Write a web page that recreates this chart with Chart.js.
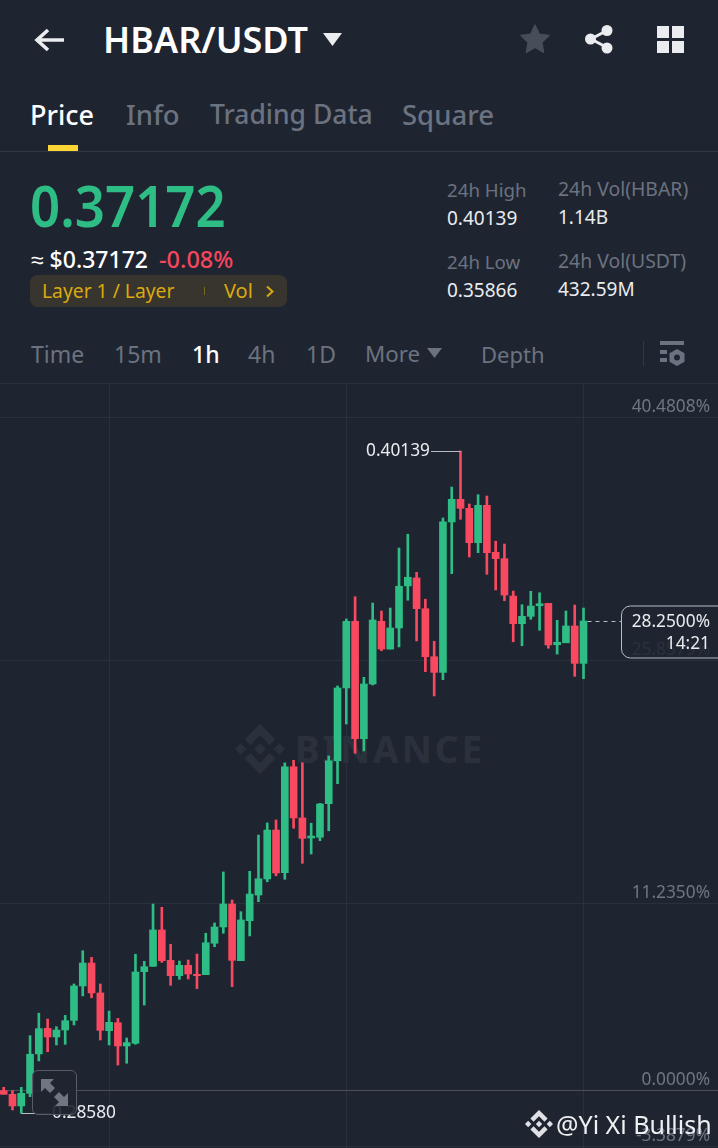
<!DOCTYPE html>
<html><head><meta charset="utf-8">
<script src="https://cdn.jsdelivr.net/npm/chart.js@4/dist/chart.umd.min.js"></script>
<style>
html,body{margin:0;padding:0;background:#1f2530;width:718px;height:1148px;overflow:hidden;font-family:"Noto Sans",sans-serif}
.t{position:absolute;white-space:nowrap;line-height:1}
.g{color:#6b7280}.w{color:#eaecef}
svg{position:absolute;display:block}
#c{position:absolute;left:0;top:384px}
</style></head><body>
<svg style="left:33px;top:26px" width="34" height="28" viewBox="0 0 34 28"><path d="M31 14H5M15 4L4 14l11 10" fill="none" stroke="#eaecef" stroke-width="3.6"/></svg>
<div class="t" style="left:103px;top:22px;font-size:36px;font-weight:600;color:#fff">HBAR/USDT</div>
<svg style="left:322px;top:32px" width="21" height="15" viewBox="0 0 21 15"><path d="M1 1h19L10.500 14z" fill="#eaecef"/></svg>
<svg style="left:519px;top:23px" width="32" height="32" viewBox="0 0 24 24"><path d="M12 1.500l3.200 6.800 7.300 1-5.300 5.200 1.300 7.500-6.500-3.600-6.500 3.600 1.300-7.500L1.500 9.300l7.300-1z" fill="#474d59" stroke="#474d59" stroke-linejoin="round"/></svg>
<svg style="left:584px;top:24px" width="30" height="30" viewBox="0 0 30 30"><path d="M24 6L7 15l17 9" fill="none" stroke="#eaecef" stroke-width="3"/><circle cx="23" cy="6.500" r="5.500" fill="#eaecef"/><circle cx="23" cy="24" r="5.500" fill="#eaecef"/><circle cx="6.500" cy="15" r="5.500" fill="#eaecef"/></svg>
<svg style="left:657px;top:26px" width="27" height="27" viewBox="0 0 27 27"><path d="M0 0h12v12H0zM15 0h12v12H15zM0 15h12v12H0zM15 15h12v12H15z" fill="#eaecef"/></svg>

<div class="t w" style="left:30px;top:101px;font-size:27px;font-weight:500;color:#fff">Price</div>
<div class="t g" style="left:126px;top:101px;font-size:27.500px;font-weight:500">Info</div>
<div class="t g" style="left:210px;top:101px;font-size:26.500px;font-weight:500">Trading Data</div>
<div class="t g" style="left:402px;top:101px;font-size:27.500px;font-weight:500">Square</div>
<div style="position:absolute;left:48px;top:145px;width:30px;height:6px;background:#fcd535"></div>
<div style="position:absolute;left:0;top:151px;width:718px;height:1px;background:#323844"></div>

<div class="t" style="left:30px;top:176px;font-size:58px;font-weight:600;color:#2ebd85;transform:scaleX(.91);transform-origin:0 0">0.37172</div>
<div class="t w" style="left:31px;top:248px;font-size:23px;font-weight:500;color:#fff">≈ $0.37172</div>
<div class="t" style="left:159px;top:248px;font-size:23.500px;font-weight:500;color:#f6465d">-0.08%</div>
<div style="position:absolute;left:30px;top:275px;width:257px;height:32px;border-radius:8px;background:#38352e"></div>
<div class="t" style="left:42px;top:281px;font-size:19.300px;color:#dba90f">Layer 1 / Layer</div>
<div style="position:absolute;left:204px;top:287px;width:1px;height:8px;background:#7a6a28"></div>
<div class="t" style="left:224px;top:281px;font-size:20px;color:#dba90f">Vol</div>
<svg style="left:265px;top:285px" width="10" height="13" viewBox="0 0 10 13"><path d="M2 1.500L7.500 6.500 2 11.500" fill="none" stroke="#dba90f" stroke-width="2"/></svg>

<div class="t g" style="left:447px;top:181px;font-size:18.700px">24h High</div>
<div class="t w" style="left:447px;top:209px;font-size:19px">0.40139</div>
<div class="t g" style="left:558px;top:179px;font-size:19.400px">24h Vol(HBAR)</div>
<div class="t w" style="left:558px;top:208px;font-size:19px">1.14B</div>
<div class="t g" style="left:447px;top:253px;font-size:18.700px">24h Low</div>
<div class="t w" style="left:447px;top:281px;font-size:19px">0.35866</div>
<div class="t g" style="left:558px;top:251px;font-size:19.400px">24h Vol(USDT)</div>
<div class="t w" style="left:558px;top:280px;font-size:19px">432.59M</div>

<div class="t g" style="left:31px;top:343px;font-size:23px">Time</div>
<div class="t g" style="left:114px;top:343px;font-size:23px">15m</div>
<div class="t" style="left:192px;top:343px;font-size:23px;font-weight:500;color:#fff">1h</div>
<div class="t g" style="left:248px;top:343px;font-size:23px">4h</div>
<div class="t g" style="left:306px;top:343px;font-size:23px">1D</div>
<div class="t g" style="left:365px;top:343px;font-size:22.300px">More</div>
<svg style="left:427px;top:347px" width="15" height="12" viewBox="0 0 15 12"><path d="M0 1h15L7.500 11z" fill="#6b7280"/></svg>
<div class="t g" style="left:481px;top:343px;font-size:22px">Depth</div>
<div style="position:absolute;left:643px;top:341px;width:1px;height:25px;background:#323844"></div>
<svg style="left:660px;top:341px" width="26" height="26" viewBox="0 0 26 26"><path d="M0 0h24v4H0zM0 9h7v4H0zM0 17h7v4H0z" fill="#6b7280"/><path d="M17 8l7.500 4.300v8.400L17 25l-7.500-4.300v-8.400z" fill="#6b7280"/><circle cx="17" cy="16.500" r="3" fill="#1f2530"/></svg>

<svg style="left:235px;top:724px" width="50" height="50" viewBox="0 0 126.61 126.61"><path fill="#2b313c" d="M38.73 53.200l24.590-24.580 24.600 24.600 14.300-14.310L63.320 0 24.420 38.900zM0 63.310l14.300-14.310 14.310 14.310-14.310 14.300zM38.730 73.410l24.590 24.590 24.600-24.600 14.310 14.290-38.900 38.910-38.910-38.880-.02-.02zM98 63.310l14.300-14.310 14.310 14.300-14.310 14.320z"/><path fill="#2b313c" d="M77.830 63.300L63.320 48.780 52.590 59.510l-1.240 1.230-2.540 2.540 14.510 14.500 14.510-14.470z"/></svg>
<div class="t" style="left:295px;top:730px;font-size:37px;font-weight:700;color:#2b313c;letter-spacing:3px">BINANCE</div>

<canvas id="c" width="718" height="764" style="width:718px;height:764px"></canvas>

<div style="position:absolute;left:32px;top:1070px;width:43px;height:43px;border:1.500px solid #565c68;border-radius:6px;background:rgba(31,37,48,.9)"></div>
<svg style="left:41px;top:1079px" width="27" height="27" viewBox="0 0 27 27"><path d="M0 0h13L9 4l5 5-5 5-5-5-4 4zM27 27H14l4-4-5-5 5-5 5 5 4-4z" fill="#6f7682"/></svg>
<svg style="left:525px;top:1110px" width="28" height="28" viewBox="0 0 126.61 126.61"><path fill="#dfe1e5" d="M38.73 53.200l24.590-24.580 24.600 24.600 14.300-14.310L63.320 0 24.420 38.900zM0 63.310l14.300-14.310 14.310 14.310-14.310 14.300zM38.730 73.410l24.590 24.590 24.600-24.600 14.310 14.290-38.900 38.910-38.910-38.880-.02-.02zM98 63.310l14.300-14.310 14.310 14.300-14.310 14.320z"/><path fill="#dfe1e5" d="M77.830 63.300L63.320 48.780 52.590 59.510l-1.240 1.230-2.540 2.540 14.510 14.500 14.510-14.470z"/></svg>
<div class="t" style="left:556px;top:1112px;font-size:25px;color:#eef0f2">@Yi Xi Bullish</div>

<script>
const tickValues=[40.4808,25.8579,11.2350,0,-3.3879];
const gridIndexes=[12,39,66];
const opens=[-0.01,-0.23,-0.93,-0.17,2.20,3.74,3.22,3.64,4.22,6.29,7.67,5.87,3.60,4.08,2.68,2.84,7.15,7.47,9.66,7.83,6.91,7.53,6.99,6.97,8.86,9.84,11.22,7.81,10.22,11.76,12.73,15.67,13.11,19.48,16.40,15.19,15.24,17.26,19.84,24.22,28.23,21.17,24.46,28.23,26.56,27.83,30.36,30.84,28.99,26.10,25.16,34.21,35.57,35.03,32.96,35.21,32.38,32.00,29.75,28.09,28.53,29.17,29.31,26.82,26.94,27.95,25.70];
const highs=[0.19,-0.01,0.19,3.30,4.65,4.30,3.84,4.52,6.41,8.41,8.01,6.41,4.78,4.34,3.16,8.20,7.77,11.22,11.02,8.80,7.79,7.85,8.21,9.46,10.08,13.15,11.46,10.76,13.19,15.37,16.10,16.28,19.71,19.87,19.72,16.08,17.28,20.13,24.34,28.37,29.71,24.86,29.33,28.85,29.03,32.64,33.47,31.18,29.56,27.03,34.45,36.31,38.48,35.29,35.85,35.77,33.05,32.88,30.05,29.23,30.04,29.95,29.31,28.29,28.85,29.21,29.03];
const lows=[-0.23,-1.17,-1.37,-0.37,1.78,2.33,2.74,2.78,3.94,5.69,5.58,3.04,2.74,1.53,1.64,2.78,5.14,7.47,7.71,6.33,6.69,6.71,6.13,6.97,8.65,9.46,6.25,7.81,9.30,11.36,12.56,12.92,12.71,15.78,13.67,14.23,15.03,15.63,18.46,22.05,20.29,20.43,24.40,26.46,26.56,26.69,29.50,27.05,25.20,23.74,24.72,31.10,34.37,32.10,32.36,31.06,30.12,29.47,27.00,26.76,28.35,27.69,26.61,26.26,26.94,24.92,24.78];
const closes=[-0.23,-0.93,-0.17,2.18,3.72,3.22,3.64,4.20,6.29,7.67,5.87,3.62,4.10,2.68,2.88,7.13,7.45,9.66,7.81,6.91,7.53,7.01,6.91,8.89,9.84,11.22,7.83,10.26,11.82,12.74,15.67,13.09,19.48,16.40,15.17,15.31,17.24,19.84,24.22,28.23,21.17,24.46,28.31,26.56,27.83,30.34,30.88,28.99,26.10,25.16,34.21,35.57,35.03,32.96,35.21,32.36,32.00,29.81,28.09,28.53,29.15,29.29,26.81,26.97,27.95,25.70,28.25];
const highIndex=52, lowIndex=2, lastIndex=66;
const highLabel="0.40139", lowLabel="0.28580", lastPct="28.2500%", countdown="14:21";

const UP="#2ebd85", DOWN="#f84960", FONT='"Noto Sans",sans-serif';
const colors=closes.map((c,i)=>c>=opens[i]?UP:DOWN);
const noPad=s=>{s.paddingTop=s.paddingBottom=s.paddingLeft=s.paddingRight=0;};

const overlay={id:"overlay",afterDraw(ch){
  const c=ch.ctx,x=ch.scales.x,y=ch.scales.y;
  c.save();
  c.font='17.300px '+FONT;c.textBaseline="middle";
  const hx=x.getPixelForValue(highIndex),hy=y.getPixelForValue(highs[highIndex]);
  c.strokeStyle="#b7bdc6";c.lineWidth=1;
  c.beginPath();c.moveTo(431,Math.round(hy)+.5);c.lineTo(hx,Math.round(hy)+.5);c.stroke();
  c.fillStyle="#eaecef";c.textAlign="right";c.fillText(highLabel,430,hy);
  const lx=x.getPixelForValue(lowIndex),ly=y.getPixelForValue(lows[lowIndex]);
  c.beginPath();c.moveTo(lx,Math.round(ly)+.5);c.lineTo(52,Math.round(ly)+.5);c.stroke();
  c.textAlign="left";c.fillText(lowLabel,52,ly);
  const px=x.getPixelForValue(lastIndex),py=y.getPixelForValue(closes[lastIndex]);
  c.setLineDash([4,4]);c.strokeStyle="#b7bdc6";
  c.beginPath();c.moveTo(px+4,Math.round(py)+.5);c.lineTo(621,Math.round(py)+.5);c.stroke();
  c.setLineDash([]);
  c.beginPath();c.roundRect(621.5,py-15,110,52,9);
  c.fillStyle="rgba(31,37,48,.85)";c.fill();c.strokeStyle="#b7bdc6";c.stroke();
  c.fillStyle="#eaecef";c.textAlign="right";
  c.fillText(lastPct,710,py+1);c.fillText(countdown,710,py+23);
  c.restore();
}};

new Chart(document.getElementById("c"),{
  type:"bar",
  data:{datasets:[
    {label:"wick",data:highs.map((h,i)=>({x:i,y:[lows[i],h]})),backgroundColor:colors,barThickness:2,grouped:false,order:2},
    {label:"body",data:opens.map((o,i)=>({x:i,y:[o,closes[i]]})),backgroundColor:colors,barThickness:7,grouped:false,order:1}
  ]},
  options:{
    responsive:false,animation:false,devicePixelRatio:1,
    layout:{padding:0},
    plugins:{legend:{display:false},tooltip:{enabled:false}},
    scales:{
      x:{type:"linear",offset:false,min:-0.421,max:81.31,border:{display:false},
        grid:{offset:false,color:"#2b313c",lineWidth:1,drawTicks:false},
        ticks:{display:false},
        afterBuildTicks(s){s.ticks=gridIndexes.map(v=>({value:v}));},afterFit:noPad},
      y:{type:"linear",position:"right",min:-3.46,max:42.51,border:{display:false},
        grid:{color:c=>c.tick&&c.tick.value===0?"#4a4f5a":"#2b313c",lineWidth:1,drawTicks:false},
        ticks:{mirror:true,padding:-8,labelOffset:-10.500,color:"#6f7682",font:{family:FONT,size:17.300},
          callback:v=>v.toFixed(4)+"%"},
        afterBuildTicks(s){s.ticks=tickValues.map(v=>({value:v}));},
        afterFit(s){noPad(s);s.width=0;}}
    }
  },
  plugins:[overlay]
});
</script>
<div style="position:absolute;left:0;top:383px;width:718px;height:1px;background:#2b313c"></div>
</body></html>
